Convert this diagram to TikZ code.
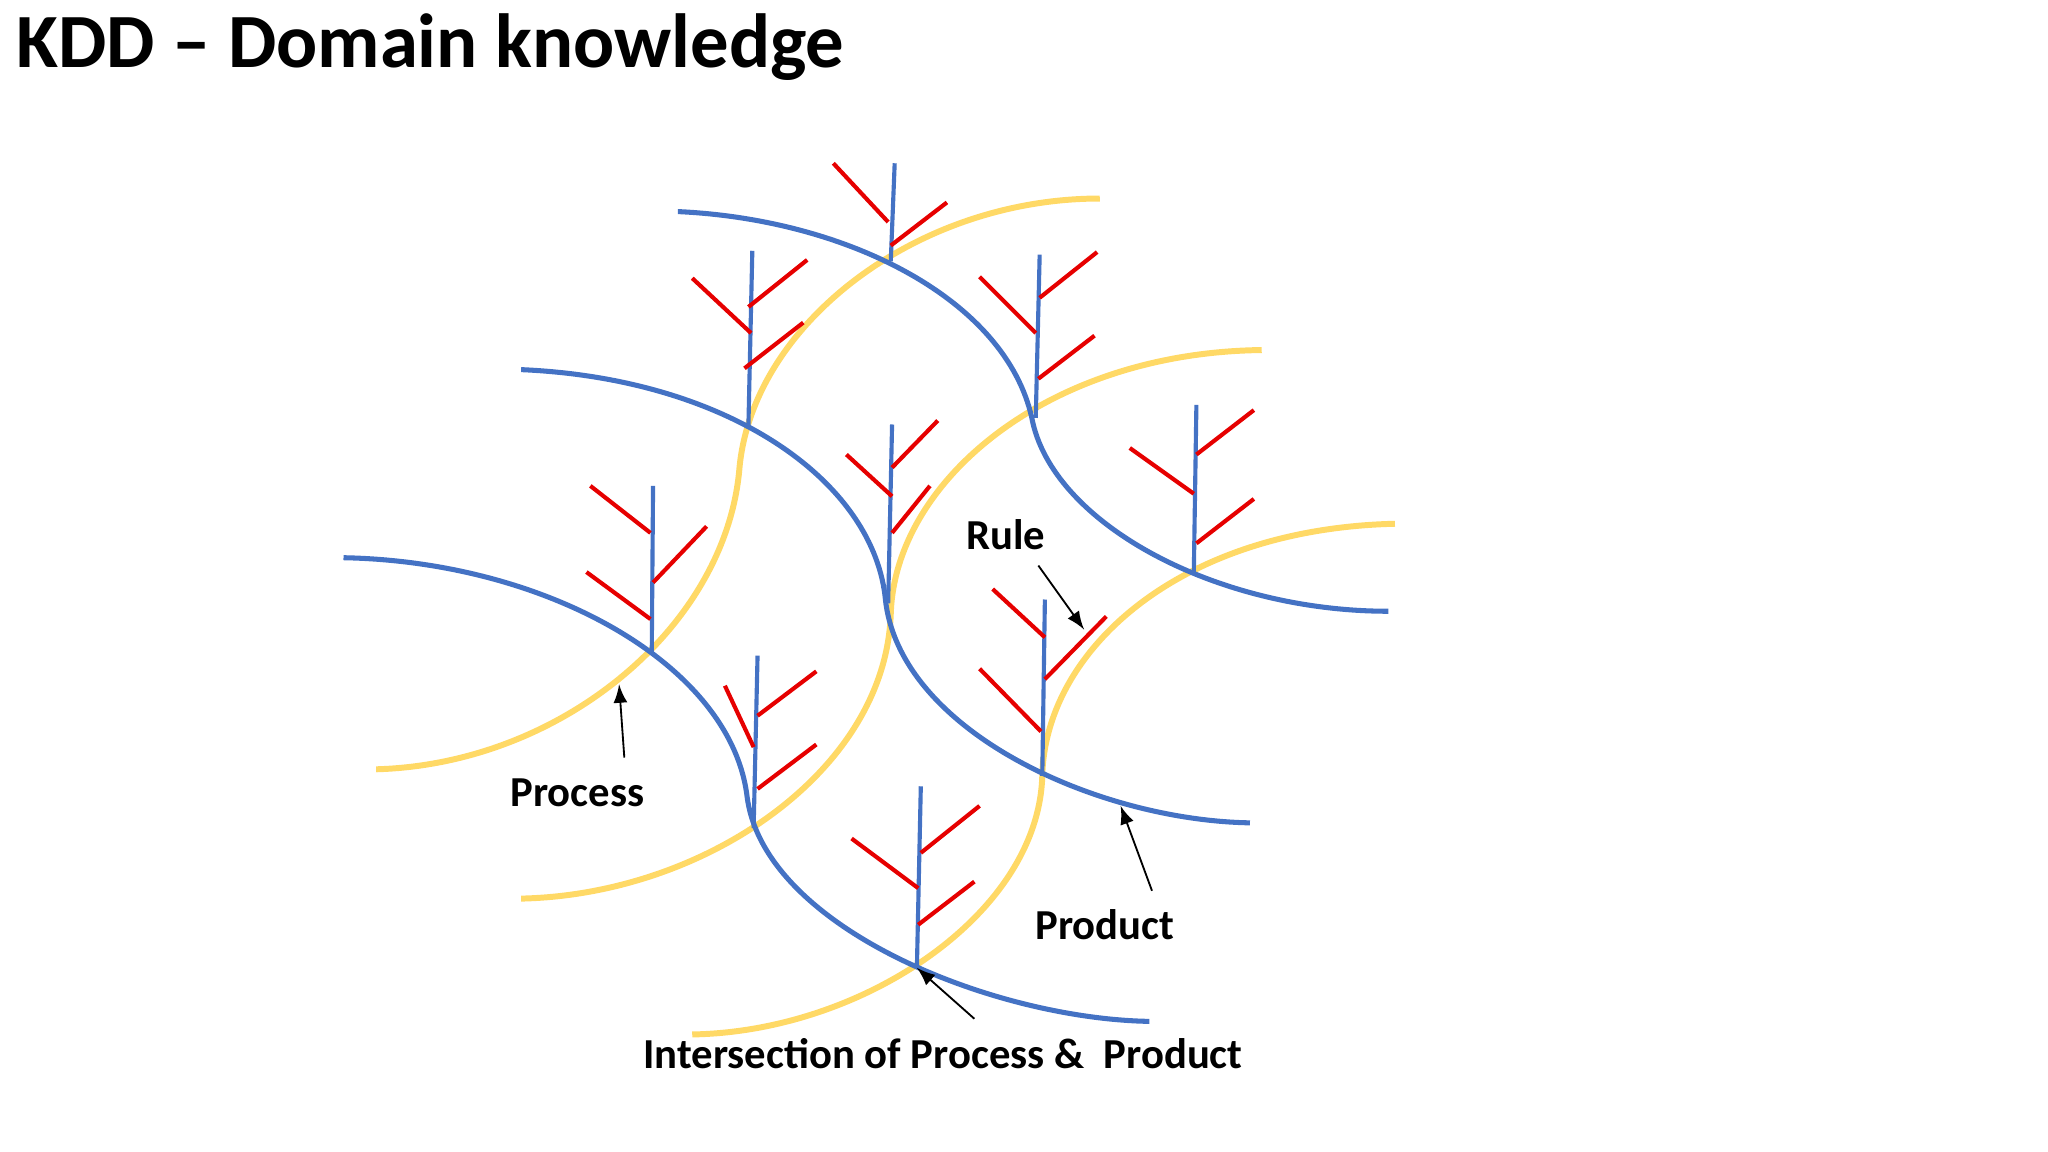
\documentclass[tikz,border=0pt]{standalone}
\usepackage{fontspec}
\setmainfont{Carlito}
\begin{document}
\begin{tikzpicture}[x=0.01cm,y=-0.01cm,
  blueline/.style={draw={rgb,255:red,68;green,114;blue,196},line width=1.1pt},
  yellowline/.style={draw={rgb,255:red,255;green,217;blue,102},line width=1.3pt},
  stem/.style={draw={rgb,255:red,68;green,114;blue,196},line width=0.9pt},
  branch/.style={draw={rgb,255:red,230;green,0;blue,0},line width=0.9pt},
  lbl/.style={font=\bfseries\fontsize{9.3}{11}\selectfont,inner sep=0pt},
  arr/.style={-{latex},line width=0.4pt}]
\useasboundingbox (0,0) rectangle (1568,882);
\node[anchor=west,inner sep=0pt,font=\bfseries\fontsize{16.7}{20}\selectfont] (title) at (12,36) {KDD – Domain knowledge};
% yellow (process)
\draw[yellowline] (842,152) .. controls (700,152) and (575,250) .. (566,360) .. controls (555,480) and (430,585) .. (288,589);
\draw[yellowline] (966,268) .. controls (800,270) and (685,370) .. (682,470) .. controls (678,590) and (540,685) .. (399,688);
\draw[yellowline] (1068,401) .. controls (900,405) and (800,500) .. (798,594) .. controls (795,700) and (660,790) .. (530,792);
% blue (product)
\draw[blueline] (519,162) .. controls (650,168) and (770,230) .. (790,320) .. controls (805,400) and (930,468) .. (1063,468);
\draw[blueline] (399,283) .. controls (560,290) and (670,370) .. (678,460) .. controls (690,560) and (840,628) .. (957,630);
\draw[blueline] (263,427) .. controls (420,430) and (560,510) .. (572,610) .. controls (585,710) and (760,780) .. (880,782);
% trees
\draw[stem] (685,125)--(682,200);
\draw[branch] (638,125)--(680,170) (725,155)--(682,188);
\draw[stem] (576,192)--(573,326);
\draw[branch] (530,213)--(575,255) (618,199)--(573,235) (615,247)--(570,282);
\draw[stem] (796,195)--(793,320);
\draw[branch] (750,212)--(793,255) (840,193)--(796,228) (838,257)--(795,290);
\draw[stem] (916,310)--(914,440);
\draw[branch] (865,343)--(914,378) (960,314)--(916,348) (960,382)--(916,416);
\draw[stem] (683,325)--(680,462);
\draw[branch] (648,348)--(683,380) (718,322)--(683,358) (712,372)--(683,408);
\draw[stem] (500,372)--(499,500);
\draw[branch] (452,372)--(498,408) (541,403)--(500,446) (449,438)--(498,474);
\draw[stem] (800,459)--(798,594);
\draw[branch] (760,451)--(800,488) (847,472)--(800,520) (750,512)--(797,560);
\draw[stem] (580,502)--(577,634);
\draw[branch] (555,525)--(577,572) (625,514)--(580,548) (625,570)--(580,604);
\draw[stem] (705,602)--(702,741);
\draw[branch] (652,642)--(703,680) (750,617)--(705,653) (746,675)--(703,708);
% labels
\node[lbl] (rule) at (770,409) {Rule};
\node[lbl] (process) at (442,607) {Process};
\node[lbl] (product) at (846,708) {Product};
\node[lbl] (inter) at (722,807) {Intersection of Process \&\ \ Product};
\coordinate (ruleT) at (830,482);
\coordinate (procT) at (474,524);
\coordinate (prodT) at (858,617);
\coordinate (interT) at (702,741);
\draw[arr] (795,433)--(ruleT);
\draw[arr] (478,580)--(procT);
\draw[arr] (882,682)--(prodT);
\draw[arr] (746,780)--(interT);
\end{tikzpicture}
\end{document}
